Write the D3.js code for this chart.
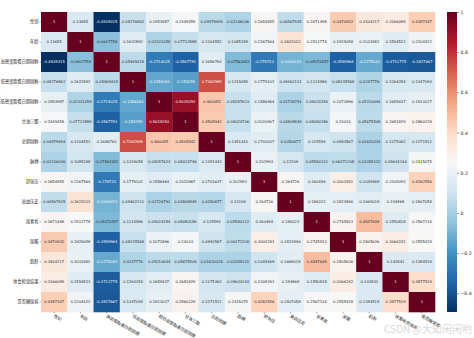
<!DOCTYPE html>
<html>
<head>
<meta charset="utf-8">
<script src="https://cdn.jsdelivr.net/npm/d3@7"></script>
<style>
body { margin: 0; background: #fff; }
</style>
</head>
<body>
<svg id="chart" width="474" height="338"></svg>
<script>
var labels = ["性别", "年龄", "高密度脂蛋白胆固醇", "低密度脂蛋白胆固醇", "极低密度脂蛋白胆固醇",
  "甘油三酯", "总胆固醇", "脉搏", "舒张压", "高血压史", "尿素氮", "尿酸", "肌酐", "体重检查结果", "是否糖尿病"];

var corr = [
  [1, 0.13655, -0.4928315, 0.08276862, 0.1953987, 0.2449458, 0.04979494, 0.02146036, 0.2654955, 0.06567935, 0.2671498, 0.4470932, 0.3404217, 0.3166089, 0.4387347],
  [0.13655, 1, -0.0607758, 0.1622892, 0.02331058, 0.07712888, 0.1304552, 0.1085198, 0.2267564, 0.3622012, 0.2512778, 0.1929058, 0.2031982, 0.1594523, 0.2204422],
  [-0.4928315, -0.0607758, 1, 0.05469418, -0.2714025, -0.3567791, 0.1686763, -0.07562652, -0.279723, -0.1000323, -0.08070957, -0.3599964, -0.1275043, -0.3711775, -0.3827667],
  [0.08276862, 0.1622892, 0.05469418, 1, -0.1356161, -0.159259, 0.7362999, 0.1319058, 0.1779102, 0.09462111, 0.1114986, 0.08135568, 0.0247776, 0.1264354, 0.1347094],
  [0.1953987, 0.02331058, -0.2714025, -0.1356161, 1, 0.9019293, 0.460055, 0.08287623, 0.1586464, 0.01726791, 0.09024284, 0.2071896, 0.05210644, 0.1659437, 0.1913027],
  [0.2449458, 0.07712888, -0.3567791, -0.159259, 0.9019293, 1, 0.4505942, 0.08024746, 0.2020967, 0.04808849, 0.08080186, 0.24014, 0.05675508, 0.2681829, 0.2860129],
  [0.04979494, 0.1304552, 0.1686763, 0.7362999, 0.460055, 0.4505942, 1, 0.1451443, 0.1701637, 0.0350677, 0.125594, 0.0993567, 0.01620334, 0.1175362, 0.1271512],
  [0.02146036, 0.1085198, -0.07562652, 0.1319058, 0.08287623, 0.08024746, 0.1451443, 1, 0.202993, 0.12209, 0.05580112, 0.06171208, 0.02059122, 0.09634144, 0.2415075],
  [0.2654955, 0.2267564, -0.279723, 0.1779102, 0.1586464, 0.2020967, 0.1701637, 0.202993, 1, 0.264726, 0.160494, 0.3003291, 0.1049469, 0.2308393, 0.4262556],
  [0.06567935, 0.3622012, -0.1000323, 0.09462111, 0.01726791, 0.04808849, 0.0350677, 0.12209, 0.264726, 1, 0.186323, 0.1823846, 0.1669018, 0.194868, 0.1807058],
  [0.2671498, 0.2512778, -0.08070957, 0.1114986, 0.09024284, 0.08080186, 0.125594, 0.05580112, 0.160494, 0.186323, 1, 0.2745923, 0.4847648, 0.1550818, 0.2567134],
  [0.4470932, 0.1929058, -0.3599964, 0.08135568, 0.2071896, 0.24014, 0.0993567, 0.06171208, 0.3003291, 0.1823846, 0.2745923, 1, 0.2805636, 0.3066242, 0.2555428],
  [0.3404217, 0.2031982, -0.1275043, 0.0247776, 0.05210644, 0.05675508, 0.01620334, 0.02059122, 0.1049469, 0.1669018, 0.4847648, 0.2805636, 1, 0.142841, 0.1384519],
  [0.3166089, 0.1594523, -0.3711775, 0.1264354, 0.1659437, 0.2681829, 0.1175362, 0.09634144, 0.2308393, 0.194868, 0.1550818, 0.3066242, 0.142841, 1, 0.3877519],
  [0.4387347, 0.2204422, -0.3827667, 0.1347094, 0.1913027, 0.2860129, 0.1271512, 0.2415075, 0.4262556, 0.1807058, 0.2567134, 0.2555428, 0.1384519, 0.3877519, 1]
];

var cbarTicks = [1, 0.8, 0.6, 0.4, 0.2, 0, -0.2, -0.4];

var svg = d3.select('#chart');
var cjk = '"Noto Sans CJK SC", "DejaVu Sans", sans-serif';
var num = '"DejaVu Sans", sans-serif';

// RdBu_r, linear between the brewer stops like matplotlib
var rdbu = ["#053061", "#2166ac", "#4393c3", "#92c5de", "#d1e5f0", "#f7f7f7",
            "#fddbc7", "#f4a582", "#d6604d", "#b2182b", "#67001f"];
var vmin = d3.min(corr, function(r) { return d3.min(r); });
var vmax = d3.max(corr, function(r) { return d3.max(r); });
var color = d3.scaleLinear()
  .domain(rdbu.map(function(c, i) { return vmin + (vmax - vmin) * i / (rdbu.length - 1); }))
  .range(rdbu)
  .interpolate(d3.interpolateRgb);

var x = d3.scaleBand().domain(d3.range(labels.length)).range([41, 435]);
var y = d3.scaleBand().domain(d3.range(labels.length)).range([12, 312]);

function luminance(c) {
  var rgb = d3.rgb(c);
  var ch = [rgb.r, rgb.g, rgb.b].map(function(v) {
    v = v / 255;
    return v <= 0.03928 ? v / 12.92 : Math.pow((v + 0.055) / 1.055, 2.4);
  });
  return 0.2126 * ch[0] + 0.7152 * ch[1] + 0.0722 * ch[2];
}

var cells = [];
corr.forEach(function(row, i) {
  row.forEach(function(v, j) { cells.push({i: i, j: j, v: v}); });
});

svg.append('g').selectAll('rect')
  .data(cells)
  .enter()
  .append('rect')
  .attr('x', function(d) { return x(d.j); })
  .attr('y', function(d) { return y(d.i); })
  .attr('width', x.bandwidth() + 0.3)
  .attr('height', y.bandwidth() + 0.3)
  .attr('fill', function(d) { return color(d.v); });

svg.append('g').selectAll('text')
  .data(cells)
  .enter()
  .append('text')
  .attr('x', function(d) { return x(d.j) + x.bandwidth() / 2; })
  .attr('y', function(d) { return y(d.i) + y.bandwidth() / 2; })
  .attr('text-anchor', 'middle')
  .attr('dominant-baseline', 'central')
  .attr('font-family', num)
  .attr('font-size', 3.7)
  .attr('fill', function(d) { return luminance(color(d.v)) > 0.408 ? '#262626' : '#ffffff'; })
  .text(function(d) { return String(d.v); });

// y labels
var yAxis = svg.append('g')
  .attr('transform', 'translate(41,0)')
  .call(d3.axisLeft(y).tickSize(1.5).tickFormat(function(i) { return labels[i]; }));
yAxis.select('.domain').remove();
yAxis.selectAll('line').attr('stroke', '#333').attr('stroke-width', 0.4);
yAxis.selectAll('text')
  .attr('font-family', cjk)
  .attr('font-size', 4.2)
  .attr('fill', '#262626')
  .attr('x', -2.5);

// x labels, rotated
var xAxis = svg.append('g')
  .attr('transform', 'translate(0,312)')
  .call(d3.axisBottom(x).tickSize(1.5).tickFormat(function(i) { return labels[i]; }));
xAxis.select('.domain').remove();
xAxis.selectAll('line').attr('stroke', '#333').attr('stroke-width', 0.4);
xAxis.selectAll('text')
  .attr('font-family', cjk)
  .attr('font-size', 4.2)
  .attr('fill', '#262626')
  .attr('text-anchor', 'start')
  .attr('y', 0)
  .attr('dy', 0)
  .attr('transform', 'translate(-1,5) rotate(30)');

// colorbar
var cb = d3.scaleLinear().domain([vmin, vmax]).range([312, 12]);
var grad = svg.append('defs').append('linearGradient')
  .attr('id', 'cbgrad')
  .attr('x1', 0).attr('y1', 1).attr('x2', 0).attr('y2', 0);
grad.selectAll('stop')
  .data(color.domain())
  .enter()
  .append('stop')
  .attr('offset', function(d) { return (d - vmin) / (vmax - vmin); })
  .attr('stop-color', function(d) { return color(d); });

svg.append('rect')
  .attr('x', 447)
  .attr('y', 12)
  .attr('width', 10)
  .attr('height', 300)
  .attr('fill', 'url(#cbgrad)');

var cAxis = svg.append('g')
  .attr('transform', 'translate(457,0)')
  .call(d3.axisRight(cb).tickValues(cbarTicks).tickSize(2)
    .tickFormat(function(d) { return d < 0 ? '\u2212' + Math.abs(d) : String(d); }));
cAxis.select('.domain').remove();
cAxis.selectAll('line').attr('stroke', '#333').attr('stroke-width', 0.5);
cAxis.selectAll('text')
  .attr('font-family', num)
  .attr('font-size', 4.6)
  .attr('fill', '#262626')
  .attr('x', 3.5);

// watermark
svg.append('text')
  .attr('x', 472)
  .attr('y', 333)
  .attr('text-anchor', 'end')
  .attr('font-family', cjk)
  .attr('font-size', 10)
  .attr('fill', '#d0d0d0')
  .attr('fill-opacity', 0.85)
  .text('CSDN @大知闲闲哟');
</script>
</body>
</html>
